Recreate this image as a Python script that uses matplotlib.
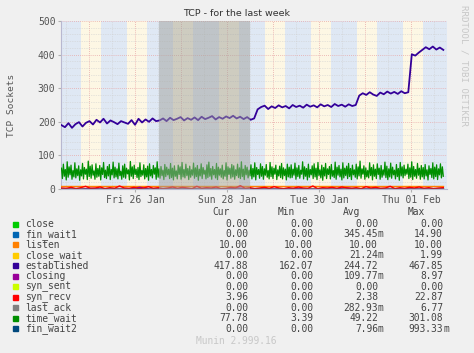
import matplotlib
matplotlib.use("Agg")
import matplotlib.pyplot as plt
import numpy as np
from matplotlib.patches import Rectangle

# data (time in days, 0 = Fri 26 Jan 00:00)
t_start, t_end = -1.6, 6.7

established = [190, 184, 196, 182, 193, 199, 186, 197, 202, 192, 206, 198, 209, 195,
               204, 199, 193, 202, 198, 194, 205, 191, 209, 198, 207, 200, 210, 202,
               204, 210, 202, 212, 205, 209, 214, 204, 211, 206, 213, 205, 215, 208,
               212, 217, 207, 214, 209, 216, 211, 218, 210, 215, 208, 214, 206, 210,
               237, 244, 248, 238, 246, 241, 249, 243, 247, 240, 250, 244, 248, 242,
               251, 245, 249, 243, 252, 246, 250, 244, 253, 247, 251, 245, 252, 247, 250,
               278, 285, 280, 288, 281, 277, 287, 282, 290, 284, 289, 283, 291, 285, 288,
               401, 397, 406, 414, 422, 416, 424, 415, 421, 414]

time_wait = """
62 31 74 38 58 27 81 35 66 42 71 29 55 36 78 33 60 40 69 26
57 39 76 30 64 44 59 28 83 37 68 32 72 41 54 29 75 35 61 38
70 27 63 43 79 34 56 31 67 39 73 28 58 42 80 33 65 36 60 30
77 40 53 29 69 35 74 32 62 45 57 27 82 38 66 31 71 43 59 34
64 28 78 37 55 41 72 30 61 36 68 26 75 39 58 33 70 44 63 29
81 35 60 32 67 40 56 28 73 37 65 42 59 31 76 34 62 27 69 38
54 30 71 43 66 29 79 36 58 33 74 40 61 28 68 35 57 41 77 32
63 37 70 26 59 39 75 31 64 44 56 30 72 34 80 38 61 29 67 42
58 33 76 28 65 41 60 35 71 30 55 38 78 27 66 43 62 32 73 36
69 29 57 40 74 34 63 31 81 37 59 28 70 42 65 33 56 39 72 30
61 36 78 27 64 43 58 32 75 38 67 29 60 41 73 35 55 30 79 37
66 31 62 44 71 28 57 39 68 34 76 30 63 40 59 27 74 36 65 33
72 34 59 41 77 29 63 37 70 32 56 44 81 30 66 38 61 27 74 35
58 42 69 31 75 36 62 28 79 40 57 33 71 26 64 39 76 31 60 43
67 30 73 38 55 34 80 29 65 41 70 36 59 27 78 33 62 40 68 31
76 37 61 28 71 42 57 35 74 30 66 39 83 32 60 44 69 29 63 36
55 33 78 40 64 27 72 38 59 31 75 43 62 29 70 35 57 41 80 34
68 28 60 36 77 32 65 42 56 30 73 37 61 26 79 39 66 33 71 40
59 44 74 31 63 35 81 28 67 38 58 32 76 41 62 29 70 36 64 30
73 39 57 27 69 43 61 34 78 30 65 37 72 28 60 42 75 33 66 38
"""
time_wait = [float(v) for v in time_wait.split()]

syn_recv = [3, 2, 5, 1, 4, 8, 2, 3, 6, 1, 4, 2, 9, 3, 2, 5, 1, 3, 7, 2,
            4, 1, 3, 6, 2, 5, 3, 1, 8, 2, 4, 3, 6, 1, 2, 5, 3, 10, 2, 4,
            1, 3, 5, 2, 7, 3, 1, 4, 2, 6, 3, 2, 9, 1, 4, 3, 5, 2, 6, 3,
            2, 4, 1, 7, 3, 5, 2, 3, 8, 1, 4, 2, 5, 3, 6, 2, 4, 1, 3, 4]
closing = [0, 0, 0, 2, 0, 0, 0, 0, 5, 0, 0, 0, 0, 1, 0, 0, 0, 0, 3, 0,
           0, 0, 0, 0, 2, 0, 0, 0, 0, 4, 0, 0, 0, 0, 0, 1, 0, 0, 0, 0]
listen = [10, 10]
zero = [0, 0]

names = ["close", "fin_wait1", "listen", "close_wait", "established", "closing",
         "syn_sent", "syn_recv", "last_ack", "time_wait", "fin_wait2"]
colors = ["#00cc00", "#0066b3", "#ff8000", "#ffcc00", "#330099", "#990099",
          "#ccff00", "#ff0000", "#808080", "#008f00", "#00487d"]
series = [zero, zero, listen, zero, established, closing,
          zero, syn_recv, zero, time_wait, zero]

cur = ["0.00", "0.00", "10.00", "0.00", "417.88", "0.00", "0.00", "3.96", "0.00", "77.78", "0.00"]
mins = ["0.00", "0.00", "10.00", "0.00", "162.07", "0.00", "0.00", "0.00", "0.00", "3.39", "0.00"]
avgs = ["0.00", "345.45m", "10.00", "21.24m", "244.72", "109.77m", "0.00", "2.38", "282.93m", "49.22", "7.96m"]
maxs = ["0.00", "14.90", "10.00", "1.99", "467.85", "8.97", "0.00", "22.87", "6.77", "301.08", "993.33m"]

day_ticks = [0, 2, 4, 6]
day_labels = ["Fri 26 Jan", "Sun 28 Jan", "Tue 30 Jan", "Thu 01 Feb"]
gray_span = (0.52, 2.5)

W, H = 474, 353
mono = "DejaVu Sans Mono"
fig = plt.figure(figsize=(W / 100, H / 100), dpi=100, facecolor="#f0f0f0")


def fx(x):
    return x / W


def fy(y):
    return 1 - y / H


ax = fig.add_axes([fx(61), fy(189), 386 / W, 168 / H])
ax.set_facecolor("white")
ax.set_xlim(-1.61, 6.78)
ax.set_ylim(0, 500)

# day / night bands
for k in range(-2, 8):
    ax.axvspan(k - 0.17, k + 0.26, color="#fdf7e4", lw=0, zorder=0)
    ax.axvspan(k + 0.26, k + 0.83, color="#dfe8f4", lw=0, zorder=0)

# grid
for v in range(0, 501, 20):
    if v % 100 == 0:
        ax.axhline(v, color="#e8a8a8", lw=0.6, ls=(0, (1, 1.5)), zorder=1)
    else:
        ax.axhline(v, color="#d0d0d0", lw=0.5, ls=(0, (1, 1.5)), zorder=1)
for d in np.arange(-1.5, 7, 0.5):
    if d % 1 == 0:
        ax.axvline(d, color="#e8a8a8", lw=0.6, ls=(0, (1, 1.5)), zorder=1)
    else:
        ax.axvline(d, color="#d0d0d0", lw=0.5, ls=(0, (1, 1.5)), zorder=1)

for name, c, vals in zip(names, colors, series):
    tt = np.linspace(t_start, t_end, len(vals))
    lw = {"time_wait": 0.9, "established": 1.3}.get(name, 1.0)
    ax.plot(tt, vals, color=c, lw=lw, zorder=3)

ax.axvspan(gray_span[0], gray_span[1], color="#a0a29e", alpha=0.5, lw=0, zorder=5)

for s in ["top", "right"]:
    ax.spines[s].set_visible(False)
for s in ["left", "bottom"]:
    ax.spines[s].set_color("#b8b8d0")
    ax.spines[s].set_linewidth(0.8)

ax.set_yticks(range(0, 501, 100))
ax.set_xticks(day_ticks)
ax.set_xticklabels(day_labels)
ax.tick_params(labelsize=7, labelcolor="#555555", color="#b0b0b0", length=2, pad=2)
for lab in ax.get_xticklabels() + ax.get_yticklabels():
    lab.set_family(mono)

fig.text(fx(237), fy(13), "TCP - for the last week", ha="center", va="center",
         fontsize=6.8, color="#333333")
fig.text(fx(12), fy(105), "TCP Sockets", rotation=90, ha="center", va="center",
         fontsize=6.8, color="#555555", family=mono)
fig.text(fx(464), fy(5), "RRDTOOL / TOBI OETIKER", rotation=270, ha="center", va="top",
         fontsize=6.6, color="#c8c8c8", family=mono)

# legend table
txt = dict(fontsize=6.9, color="#444444", family=mono, va="center")
for lbl, xc in zip(["Cur", "Min", "Avg", "Max"], [221, 286, 351, 416]):
    fig.text(fx(xc), fy(212), lbl, ha="center", **txt)

for i, name in enumerate(names):
    y = 224 + i * 10.45
    fig.patches.append(Rectangle((fx(13), fy(y + 2.5)), 5 / W, 5 / H,
                                 transform=fig.transFigure, color=colors[i]))
    fig.text(fx(25), fy(y), name, ha="left", **txt)
    for vals, xr in zip([cur, mins, avgs, maxs], [248, 313, 378, 443]):
        s = vals[i]
        if s.endswith("m"):
            fig.text(fx(xr), fy(y), s[:-1], ha="right", **txt)
            fig.text(fx(xr), fy(y), "m", ha="left", **txt)
        else:
            fig.text(fx(xr), fy(y), s, ha="right", **txt)

fig.text(fx(196), fy(341), "Munin 2.999.16", ha="left", va="center",
         fontsize=6.9, color="#c8c8c8", family=mono)

fig.savefig("out.png", dpi=100, facecolor=fig.get_facecolor())
